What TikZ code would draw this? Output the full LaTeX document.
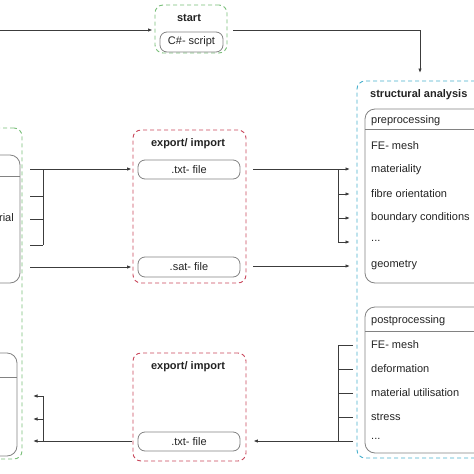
\documentclass[tikz,border=0pt]{standalone}
\usepackage{fontspec}
\setmainfont{Liberation Sans}
\usetikzlibrary{arrows.meta}
\definecolor{cgreen}{RGB}{120,190,120}
\definecolor{cred}{RGB}{200,70,90}
\definecolor{cblue}{RGB}{70,175,205}
\definecolor{cline}{RGB}{60,60,60}
\definecolor{cbox}{RGB}{130,130,130}
\definecolor{ctext}{RGB}{35,35,35}

\begin{document}
\begin{tikzpicture}[x=1pt,y=-1pt,font=\fontsize{11}{13}\selectfont,text=ctext,
	grp/.style={draw,dash pattern=on 4pt off 3pt,rounded corners=8pt,line width=0.9pt,inner sep=0pt},
	item/.style={draw=cbox,rounded corners=7pt,line width=0.8pt,inner sep=0pt},
	panel/.style={draw=cbox,rounded corners=10pt,line width=0.8pt,inner sep=0pt},
	headline/.style={draw=cbox,line width=0.8pt},
	title/.style={font=\fontsize{11}{13}\selectfont\bfseries},
	entry/.style={anchor=west,inner sep=0pt},
	arr/.style={draw=cline,line width=0.9pt,-{Latex[length=4.5pt,width=3.5pt]}},
	wire/.style={draw=cline,line width=0.9pt}]
	\useasboundingbox (0,0) rectangle (474,474);
	\clip (0,0) rectangle (474,474);
	% start
	\node[grp,draw=cgreen,minimum width=72pt,minimum height=48pt] (start) at (191,29) {};
	\node[title] at (189,18) {start};
	\node[item,minimum width=63pt,minimum height=20pt] (script) at (191.5,42) {C\#- script};
	\coordinate (feed) at (0,30);
	\coordinate (sa) at (420,81);
	\draw[arr,shorten >=2pt] (feed) -- (feed -| start.west);
	\draw[arr,shorten <=6pt,shorten >=8pt] (start.east |- feed) -| (sa);
	% left model (cut off)
	\node[grp,draw=cgreen,minimum width=150pt,minimum height=331pt] (model) at (-53,293.5) {};
	\node[panel,minimum width=146pt,minimum height=128pt] (modelA) at (-53,219) {};
	\draw[headline] (-126,176) -- (20,176);
	\node[anchor=east,inner sep=0pt] at (14,218) {rial};
	\node[panel,minimum width=143pt,minimum height=103pt] (modelB) at (-54.5,404.5) {};
	\draw[headline] (-126,377) -- (17,377);
	% export/ import (upper)
	\node[grp,draw=cred,minimum width=113pt,minimum height=153pt] (expA) at (189.5,206.5) {};
	\node[title] at (188,144) {export/ import};
	\node[item,minimum width=102pt,minimum height=19pt] (txtA) at (189,169.5) {.txt- file};
	\node[item,minimum width=102pt,minimum height=20pt] (satA) at (189,267) {.sat- file};
	% export/ import (lower)
	\node[grp,draw=cred,minimum width=113pt,minimum height=108pt] (expB) at (189.5,407) {};
	\node[title] at (188,367) {export/ import};
	\node[item,minimum width=102pt,minimum height=19pt] (txtB) at (189,441.5) {.txt- file};
	% structural analysis
	\node[grp,draw=cblue,minimum width=140pt,minimum height=377pt] (struct) at (427,269.5) {};
	\node[title,anchor=west,inner sep=0pt] at (370,95) {structural analysis};
	\node[panel,minimum width=120pt,minimum height=174pt] (pre) at (425,196) {};
	\draw[headline] (365,129) -- (485,129);
	\node[entry] at (371,121) {preprocessing};
	\node[entry] (mesh) at (371,146) {FE- mesh};
	\node[entry] (mat) at (371,170) {materiality};
	\node[entry] (fibre) at (371,194) {fibre orientation};
	\node[entry] (bc) at (371,218) {boundary conditions};
	\node[entry] (etc) at (371,241) {...};
	\node[entry] (geo) at (371,265) {geometry};
	\node[panel,minimum width=120pt,minimum height=146pt] (post) at (425,380) {};
	\draw[headline] (365,331) -- (485,331);
	\node[entry] at (371,321) {postprocessing};
	\node[entry] (rmesh) at (371,345) {FE- mesh};
	\node[entry] (rdef) at (371,369) {deformation};
	\node[entry] (rutil) at (371,393) {material utilisation};
	\node[entry] (rstress) at (371,417) {stress};
	\node[entry] (retc) at (371,439) {...};
	% model -> export
	\coordinate (m1) at (30,169);
	\coordinate (m2) at (30,196);
	\coordinate (m3) at (30,219);
	\coordinate (m4) at (30,245);
	\coordinate (m5) at (30,267);
	\draw[arr,shorten >=6pt] (m1) -- (m1 -| txtA.west);
	\draw[wire] (m2) -- +(13,0) (m3) -- +(13,0) (m4) -- +(13,0);
	\draw[wire] (43,169) -- (43,245);
	\draw[arr,shorten >=6pt] (m5) -- (m5 -| satA.west);
	% export -> structural analysis
	\coordinate (s1) at (350,169);
	\coordinate (s5) at (350,266);
	\draw[arr,shorten <=13pt] (txtA.east |- s1) -- (s1);
	\draw[wire] (338,169) -- (338,242);
	\foreach \y in {194,218,242}
		\draw[arr] (338,\y) -- (350,\y);
	\draw[arr,shorten <=13pt] (satA.east |- s5) -- (s5);
	% structural analysis -> export -> model
	\foreach \y in {345,369,393,417}
		\draw[wire] (353,\y) -- (338,\y);
	\draw[wire] (338,345) -- (338,441);
	\draw[arr,shorten >=13pt] (353,441) -- (txtB.east |- 0,441);
	\draw[arr,shorten <=6pt] (txtB.west |- 0,441) -- (33,441);
	\draw[wire] (43,441) -- (43,396);
	\foreach \y in {396,419}
		\draw[arr] (43,\y) -- (33,\y);
\end{tikzpicture}
\end{document}
